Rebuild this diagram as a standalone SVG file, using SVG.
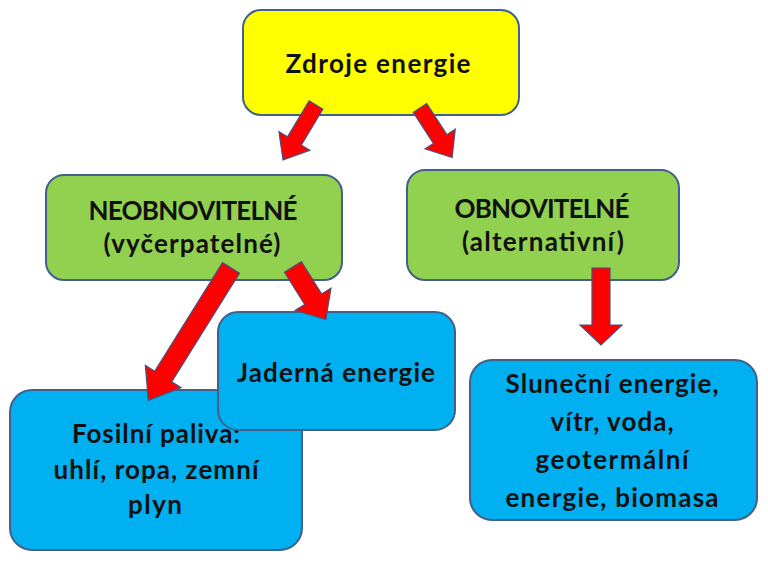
<svg xmlns="http://www.w3.org/2000/svg" width="768" height="564" viewBox="0 0 768 564">
<defs>
<style>
.box{stroke:#41618a;stroke-width:2}
.y{fill:#ffff00}
.g{fill:#92d050}
.b{fill:#00b0f0}
.t{font-family:Lato,"Open Sans","DejaVu Sans",sans-serif;font-weight:bold;font-size:26px;fill:#111;text-anchor:middle}
.arr{fill:#ff0000;stroke:#4a4f7a;stroke-width:1.2;stroke-linejoin:miter}
</style>
</defs>
<rect width="768" height="564" fill="#ffffff"/>
<g id="zdroje">
<rect class="box y" x="243" y="10" width="276" height="105" rx="18"/>
<text class="t" x="378" y="73" textLength="185" lengthAdjust="spacing">Zdroje energie</text>
</g>
<g id="neobnovitelne">
<rect class="box g" x="46" y="175" width="296" height="105" rx="18"/>
<text class="t" x="193" y="220" textLength="209" lengthAdjust="spacing">NEOBNOVITELNÉ</text>
<text class="t" x="192" y="253" textLength="177" lengthAdjust="spacing">(vyčerpatelné)</text>
</g>
<g id="obnovitelne">
<rect class="box g" x="407" y="170" width="272" height="110" rx="18"/>
<text class="t" x="542" y="218" textLength="175" lengthAdjust="spacing">OBNOVITELNÉ</text>
<text class="t" x="543" y="251" textLength="162" lengthAdjust="spacing">(alternativní)</text>
</g>
<g id="fosilni">
<rect class="box b" x="10" y="390" width="292" height="160" rx="22"/>
<text class="t" x="156" y="443" textLength="168" lengthAdjust="spacing">Fosilní paliva:</text>
<text class="t" x="156" y="479" textLength="205" lengthAdjust="spacing">uhlí, ropa, zemní</text>
<text class="t" x="155" y="514" textLength="54" lengthAdjust="spacing">plyn</text>
</g>
<g id="jaderna">
<rect class="box b" x="218" y="312" width="237" height="118" rx="20"/>
<text class="t" x="336" y="382" textLength="198" lengthAdjust="spacing">Jaderná energie</text>
</g>
<g id="obnovitelne-zdroje">
<rect class="box b" x="470" y="360" width="287" height="160" rx="22"/>
<text class="t" x="612" y="393" textLength="213" lengthAdjust="spacing">Sluneční energie,</text>
<text class="t" x="612" y="431" textLength="123" lengthAdjust="spacing">vítr, voda,</text>
<text class="t" x="612" y="469" textLength="153" lengthAdjust="spacing">geotermální</text>
<text class="t" x="612" y="507" textLength="213" lengthAdjust="spacing">energie, biomasa</text>
</g>
<g id="connectors">
<path class="arr" transform="translate(316,105) rotate(121)" d="M0,-8 L42,-8 L42,-18 L64,0 L42,18 L42,8 L0,8 Z"/>
<path class="arr" transform="translate(420,108) rotate(57)" d="M0,-8 L37,-8 L37,-18 L59,0 L37,18 L37,8 L0,8 Z"/>
<path class="arr" transform="translate(231,268) rotate(122)" d="M0,-10 L128,-10 L128,-21 L156,0 L128,21 L128,10 L0,10 Z"/>
<path class="arr" transform="translate(293,267) rotate(58)" d="M0,-10 L38,-10 L38,-21 L62,0 L38,21 L38,10 L0,10 Z"/>
<path class="arr" d="M592,268 L610,268 L610,325 L622,325 L601,345 L580,325 L592,325 Z"/>
</g>
</svg>
